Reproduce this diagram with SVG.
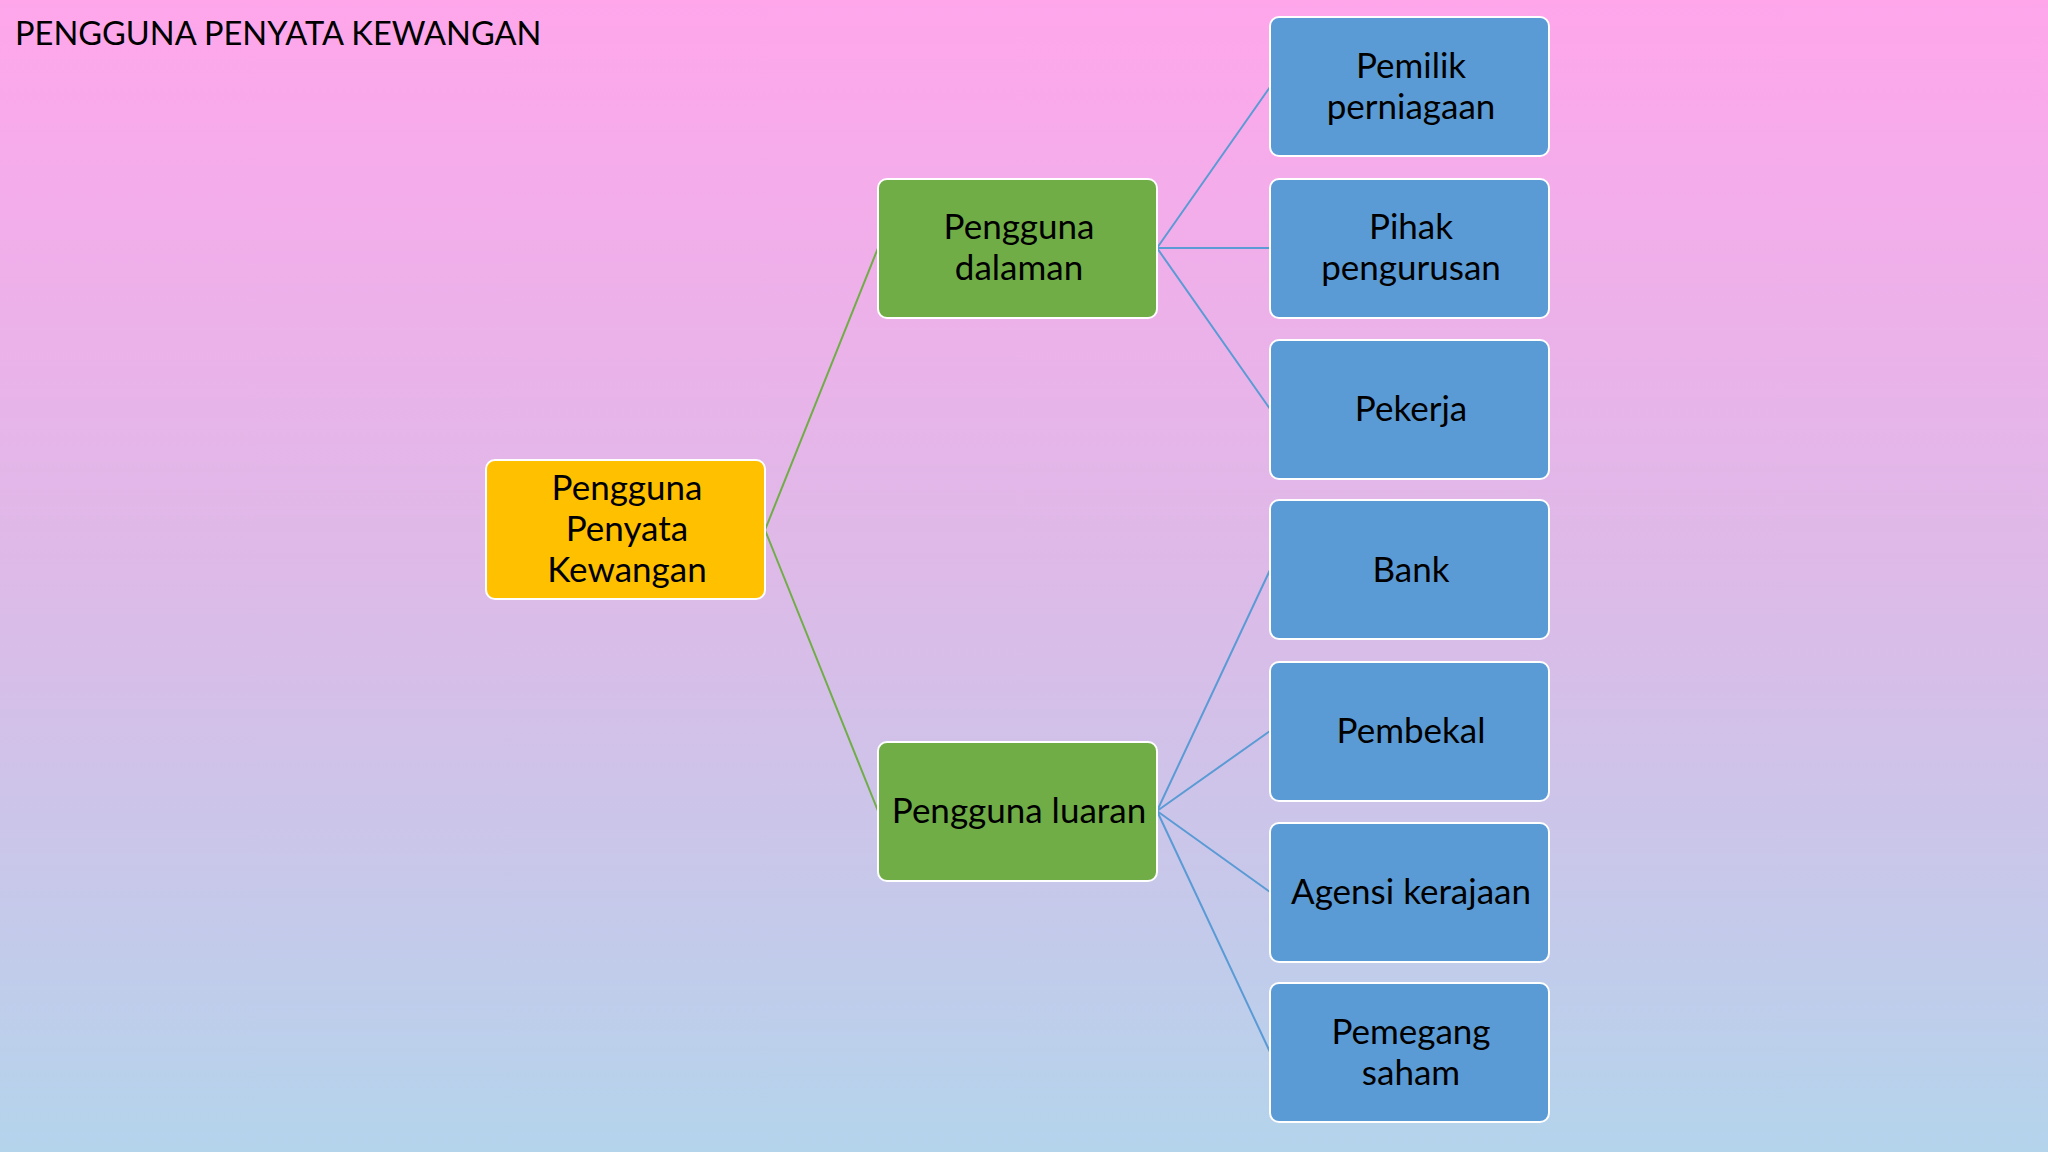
<svg xmlns="http://www.w3.org/2000/svg" width="2048" height="1152" viewBox="0 0 2048 1152">
<defs>
<linearGradient id="bg" x1="0" y1="0" x2="0" y2="1">
<stop offset="0" stop-color="#FFA6EB"/>
<stop offset="0.5" stop-color="#DDBAE8"/>
<stop offset="1" stop-color="#B4D4EC"/>
</linearGradient>
<style>
.n{stroke:#fff;stroke-width:2}
.y{fill:#FFC000}.g{fill:#70AD47}.b{fill:#5B9BD5}
text{font-family:Lato,"Open Sans",sans-serif;font-size:35px;fill:#000;text-anchor:middle}
.gl{stroke:#70AD47;stroke-width:2;fill:none}
.bl{stroke:#5B9BD5;stroke-width:2;fill:none}
</style>
</defs>
<rect width="2048" height="1152" fill="url(#bg)"/>
<text x="15" y="45" style="text-anchor:start;font-size:32.6px">PENGGUNA PENYATA KEWANGAN</text>
<g id="connectors">
<path class="gl" d="M765 530L878 248M765 530L878 811"/>
<path class="bl" d="M1157 248L1270 87M1157 248L1270 248M1157 248L1270 409M1157 811L1270 570M1157 811L1270 731M1157 811L1270 892M1157 811L1270 1052"/>
</g>
<g id="root"><rect class="n y" x="486" y="460" width="279" height="139" rx="9"/><text x="627" y="500">Pengguna</text><text x="627" y="541">Penyata</text><text x="627" y="582">Kewangan</text></g>
<g id="dalaman"><rect class="n g" x="878" y="179" width="279" height="139" rx="9"/><text x="1019" y="239">Pengguna</text><text x="1019" y="280">dalaman</text></g>
<g id="luaran"><rect class="n g" x="878" y="742" width="279" height="139" rx="9"/><text x="1019" y="823">Pengguna luaran</text></g>
<g id="pemilik"><rect class="n b" x="1270" y="17" width="279" height="139" rx="9"/><text x="1411" y="78">Pemilik</text><text x="1411" y="119">perniagaan</text></g>
<g id="pihak"><rect class="n b" x="1270" y="179" width="279" height="139" rx="9"/><text x="1411" y="239">Pihak</text><text x="1411" y="280">pengurusan</text></g>
<g id="pekerja"><rect class="n b" x="1270" y="340" width="279" height="139" rx="9"/><text x="1411" y="421">Pekerja</text></g>
<g id="bank"><rect class="n b" x="1270" y="500" width="279" height="139" rx="9"/><text x="1411" y="582">Bank</text></g>
<g id="pembekal"><rect class="n b" x="1270" y="662" width="279" height="139" rx="9"/><text x="1411" y="743">Pembekal</text></g>
<g id="agensi"><rect class="n b" x="1270" y="823" width="279" height="139" rx="9"/><text x="1411" y="904">Agensi kerajaan</text></g>
<g id="pemegang"><rect class="n b" x="1270" y="983" width="279" height="139" rx="9"/><text x="1411" y="1044">Pemegang</text><text x="1411" y="1085">saham</text></g>
</svg>
